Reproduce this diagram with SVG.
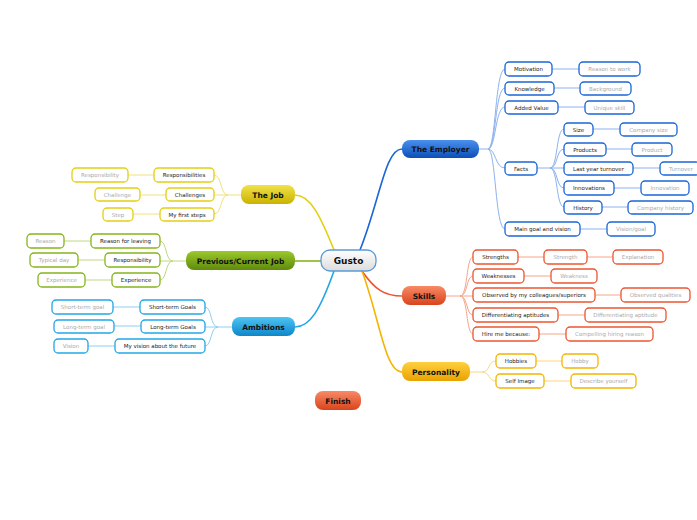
<svg xmlns="http://www.w3.org/2000/svg" width="697" height="520" viewBox="0 0 697 520">
<defs>
<linearGradient id="gB" x1="0" y1="0" x2="0" y2="1"><stop offset="0" stop-color="#4a90ee"/><stop offset="1" stop-color="#0b4fb8"/></linearGradient>
<linearGradient id="gR" x1="0" y1="0" x2="0" y2="1"><stop offset="0" stop-color="#f88a66"/><stop offset="1" stop-color="#d9441c"/></linearGradient>
<linearGradient id="gO" x1="0" y1="0" x2="0" y2="1"><stop offset="0" stop-color="#ffd040"/><stop offset="1" stop-color="#e8a200"/></linearGradient>
<linearGradient id="gY" x1="0" y1="0" x2="0" y2="1"><stop offset="0" stop-color="#f2e24a"/><stop offset="1" stop-color="#c9b200"/></linearGradient>
<linearGradient id="gG" x1="0" y1="0" x2="0" y2="1"><stop offset="0" stop-color="#9cc82c"/><stop offset="1" stop-color="#5f8a0c"/></linearGradient>
<linearGradient id="gC" x1="0" y1="0" x2="0" y2="1"><stop offset="0" stop-color="#4cc4f4"/><stop offset="1" stop-color="#0f86c8"/></linearGradient>
<linearGradient id="gW" x1="0" y1="0" x2="0" y2="1"><stop offset="0" stop-color="#ffffff"/><stop offset="1" stop-color="#dcdcdc"/></linearGradient>
</defs>
<style>
text{font-family:"DejaVu Sans","Liberation Sans",sans-serif;text-anchor:middle;dominant-baseline:central}
.m{font-size:7.5px;font-weight:bold;fill:#111}
.s{font-size:5.5px;fill:#222}
.l{font-size:5.5px;fill:#aaa}
.n{fill:#fff;stroke-width:1.3}
.b{stroke:#1a66d6}.r{stroke:#ec5530}.o{stroke:#f5b400}.y{stroke:#e3cf14}.g{stroke:#86b41a}.c{stroke:#22a6e6}
.cn path{fill:none}
.lb{stroke:#8db2ee}.lr{stroke:#f5a68c}.lo{stroke:#fbd57a}.ly{stroke:#f0e27a}.lg{stroke:#bcd880}.lc{stroke:#8fd0f2}
</style>
<g class="cn" stroke-width="1">
<path d="M360 250 C380 200 385 149 402 149" stroke="#1a66d6" stroke-width="1.6"/>
<path d="M362 271 C375 290 385 296 402 296" stroke="#ec5530" stroke-width="1.6"/>
<path d="M362 271 C380 320 385 372 402 372" stroke="#f5b400" stroke-width="1.6"/>
<path d="M334 250 C320 215 310 195 295 195" stroke="#e3cf14" stroke-width="1.6"/>
<path d="M321 261 H295" stroke="#86b41a" stroke-width="1.6"/>
<path d="M334 271 C320 310 310 327 295 327" stroke="#22a6e6" stroke-width="1.6"/>
<g class="lb">
<path d="M479 149 H488 C496 149 495 69 505 69"/><path d="M488 149 C496 149 495 88 505 88"/><path d="M488 149 C496 149 495 107 505 107"/><path d="M488 149 C496 149 495 168 505 168"/><path d="M488 149 C496 149 495 229 505 229"/>
<path d="M552 69 H579"/><path d="M554 88 H580"/><path d="M558 107 H585"/><path d="M580 229 H607"/>
<path d="M537 168 H550 C558 168 556 129 564 129"/><path d="M550 168 C558 168 556 149 564 149"/><path d="M550 168 H564"/><path d="M550 168 C558 168 556 188 564 188"/><path d="M550 168 C558 168 556 207 564 207"/>
<path d="M593 129 H620"/><path d="M606 149 H632"/><path d="M633 168 H660"/><path d="M614 188 H641"/><path d="M602 207 H628"/>
</g>
<g class="lr">
<path d="M446 296 H460 C468 296 466 257 473 257"/><path d="M460 296 C468 296 466 276 473 276"/><path d="M460 296 H473"/><path d="M460 296 C468 296 466 315 473 315"/><path d="M460 296 C468 296 466 334 473 334"/>
<path d="M518 257 H544"/><path d="M587 257 H613"/><path d="M524 276 H551"/><path d="M595 295 H621"/><path d="M558 315 H585"/><path d="M539 334 H566"/>
</g>
<g class="lo">
<path d="M470 372 H482 C490 372 488 361 496 361"/><path d="M482 372 C490 372 488 381 496 381"/>
<path d="M536 361 H562"/><path d="M544 381 H571"/>
</g>
<g class="ly">
<path d="M241 195 H228 C220 195 222 175 214 175"/><path d="M228 195 H214"/><path d="M228 195 C220 195 222 214 214 214"/>
<path d="M154 175 H128"/><path d="M166 195 H140"/><path d="M160 214 H133"/>
</g>
<g class="lg">
<path d="M186 261 H173 C165 261 167 241 160 241"/><path d="M173 261 H160"/><path d="M173 261 C165 261 167 280 160 280"/>
<path d="M91 241 H64"/><path d="M105 260 H78"/><path d="M112 280 H85"/>
</g>
<g class="lc">
<path d="M232 327 H218 C210 327 212 307 205 307"/><path d="M218 327 H205"/><path d="M218 327 C210 327 212 346 205 346"/>
<path d="M140 307 H113"/><path d="M141 326 H114"/><path d="M115 346 H88"/>
</g>
</g>
<g id="gusto"><rect x="321" y="250" width="55" height="21" rx="9" fill="url(#gW)" stroke="#5b9bd5" stroke-width="1.3"/><text x="348.5" y="261" style="font-size:9px;font-weight:bold;fill:#111">Gusto</text></g>
<g id="employer"><rect x="402" y="140" width="77" height="18" rx="8" fill="url(#gB)"/><text class="m" x="440.5" y="149">The Employer</text></g>
<g id="skills"><rect x="402" y="286" width="44" height="19" rx="8" fill="url(#gR)"/><text class="m" x="424" y="296">Skills</text></g>
<g id="personality"><rect x="402" y="362" width="68" height="19" rx="8" fill="url(#gO)"/><text class="m" x="436" y="372">Personality</text></g>
<g id="finish"><rect x="315" y="391" width="46" height="19" rx="8" fill="url(#gR)"/><text class="m" x="338" y="401">Finish</text></g>
<g id="job"><rect x="241" y="185" width="54" height="19" rx="8" fill="url(#gY)"/><text class="m" x="268" y="195">The Job</text></g>
<g id="prev"><rect x="186" y="251" width="109" height="19" rx="8" fill="url(#gG)"/><text class="m" x="240.5" y="261">Previous/Current Job</text></g>
<g id="amb"><rect x="232" y="317" width="63" height="19" rx="8" fill="url(#gC)"/><text class="m" x="263.5" y="327">Ambitions</text></g>

<g id="motivation"><rect class="n b" x="505" y="62" width="47" height="14" rx="4"/><text class="s" x="528.5" y="69">Motivation</text></g>
<g id="reason2work"><rect class="n b" x="579" y="62" width="61" height="14" rx="4"/><text class="l" x="609.5" y="69">Reason to work</text></g>
<g id="knowledge"><rect class="n b" x="505" y="82" width="49" height="13" rx="4"/><text class="s" x="529.5" y="88.5">Knowledge</text></g>
<g id="background"><rect class="n b" x="580" y="82" width="51" height="13" rx="4"/><text class="l" x="605.5" y="88.5">Background</text></g>
<g id="addedvalue"><rect class="n b" x="505" y="101" width="53" height="13" rx="4"/><text class="s" x="531.5" y="107.5">Added Value</text></g>
<g id="uniqueskill"><rect class="n b" x="585" y="101" width="49" height="13" rx="4"/><text class="l" x="609.5" y="107.5">Unique skill</text></g>
<g id="facts"><rect class="n b" x="505" y="162" width="32" height="13" rx="4"/><text class="s" x="521" y="168.5">Facts</text></g>
<g id="size"><rect class="n b" x="564" y="123" width="29" height="13" rx="4"/><text class="s" x="578.5" y="129.5">Size</text></g>
<g id="companysize"><rect class="n b" x="620" y="123" width="57" height="13" rx="4"/><text class="l" x="648.5" y="129.5">Company size</text></g>
<g id="products"><rect class="n b" x="564" y="143" width="42" height="13" rx="4"/><text class="s" x="585" y="149.5">Products</text></g>
<g id="product"><rect class="n b" x="632" y="143" width="40" height="13" rx="4"/><text class="l" x="652" y="149.5">Product</text></g>
<g id="turnover"><rect class="n b" x="564" y="162" width="69" height="13" rx="4"/><text class="s" x="598.5" y="168.5">Last year turnover</text></g>
<g id="turnover2"><rect class="n b" x="660" y="162" width="40" height="13" rx="4"/><text class="l" x="681" y="168.5">Turnover</text></g>
<g id="innovations"><rect class="n b" x="564" y="181" width="50" height="14" rx="4"/><text class="s" x="589" y="188">Innovations</text></g>
<g id="innovation"><rect class="n b" x="641" y="181" width="48" height="14" rx="4"/><text class="l" x="665" y="188">Innovation</text></g>
<g id="history"><rect class="n b" x="564" y="201" width="38" height="13" rx="4"/><text class="s" x="583" y="207.5">History</text></g>
<g id="companyhistory"><rect class="n b" x="628" y="201" width="65" height="13" rx="4"/><text class="l" x="660.5" y="207.5">Company history</text></g>
<g id="maingoal"><rect class="n b" x="505" y="222" width="75" height="14" rx="4"/><text class="s" x="542.5" y="229">Main goal and vision</text></g>
<g id="visiongoal"><rect class="n b" x="607" y="222" width="48" height="14" rx="4"/><text class="l" x="631" y="229">Vision/goal</text></g>

<g id="strengths"><rect class="n r" x="473" y="250" width="45" height="14" rx="4"/><text class="s" x="495.5" y="257">Strengths</text></g>
<g id="strength"><rect class="n r" x="544" y="250" width="43" height="14" rx="4"/><text class="l" x="565.5" y="257">Strength</text></g>
<g id="explanation"><rect class="n r" x="613" y="250" width="50" height="14" rx="4"/><text class="l" x="638" y="257">Explanation</text></g>
<g id="weaknesses"><rect class="n r" x="473" y="269" width="51" height="14" rx="4"/><text class="s" x="498.5" y="276">Weaknesses</text></g>
<g id="weakness"><rect class="n r" x="551" y="269" width="46" height="14" rx="4"/><text class="l" x="574" y="276">Weakness</text></g>
<g id="observed"><rect class="n r" x="473" y="288" width="122" height="14" rx="4"/><text class="s" x="534" y="295">Observed by my colleagues/superiors</text></g>
<g id="observedq"><rect class="n r" x="621" y="288" width="69" height="14" rx="4"/><text class="l" x="655.5" y="295">Observed qualities</text></g>
<g id="diffapt"><rect class="n r" x="473" y="308" width="85" height="14" rx="4"/><text class="s" x="515.5" y="315">Differentiating aptitudes</text></g>
<g id="diffapt2"><rect class="n r" x="585" y="308" width="81" height="14" rx="4"/><text class="l" x="625.5" y="315">Differentiating aptitude</text></g>
<g id="hireme"><rect class="n r" x="473" y="327" width="66" height="14" rx="4"/><text class="s" x="506" y="334">Hire me because:</text></g>
<g id="compelling"><rect class="n r" x="566" y="327" width="87" height="14" rx="4"/><text class="l" x="609.5" y="334">Compelling hiring reason</text></g>
<g id="hobbies"><rect class="n o" x="496" y="354" width="40" height="14" rx="4"/><text class="s" x="516" y="361">Hobbies</text></g>
<g id="hobby"><rect class="n o" x="562" y="354" width="36" height="14" rx="4"/><text class="l" x="580" y="361">Hobby</text></g>
<g id="selfimage"><rect class="n o" x="496" y="374" width="48" height="14" rx="4"/><text class="s" x="520" y="381">Self Image</text></g>
<g id="describe"><rect class="n o" x="571" y="374" width="65" height="14" rx="4"/><text class="l" x="603.5" y="381">Describe yourself</text></g>

<g id="responsibilities"><rect class="n y" x="154" y="168" width="60" height="14" rx="4"/><text class="s" x="184" y="175">Responsibilities</text></g>
<g id="responsibility1"><rect class="n y" x="72" y="168" width="56" height="14" rx="4"/><text class="l" x="100" y="175">Responsibility</text></g>
<g id="challenges"><rect class="n y" x="166" y="188" width="48" height="13" rx="4"/><text class="s" x="190" y="194.5">Challenges</text></g>
<g id="challenge"><rect class="n y" x="95" y="188" width="45" height="13" rx="4"/><text class="l" x="117.5" y="194.5">Challenge</text></g>
<g id="firststeps"><rect class="n y" x="160" y="208" width="54" height="13" rx="4"/><text class="s" x="187" y="214.5">My first steps</text></g>
<g id="step"><rect class="n y" x="103" y="208" width="30" height="13" rx="4"/><text class="l" x="118" y="214.5">Step</text></g>
<g id="reasonleaving"><rect class="n g" x="91" y="234" width="69" height="14" rx="4"/><text class="s" x="125.5" y="241">Reason for leaving</text></g>
<g id="reason"><rect class="n g" x="27" y="234" width="37" height="14" rx="4"/><text class="l" x="45.5" y="241">Reason</text></g>
<g id="responsibility2"><rect class="n g" x="105" y="253" width="55" height="14" rx="4"/><text class="s" x="132.5" y="260">Responsibility</text></g>
<g id="typicalday"><rect class="n g" x="30" y="253" width="48" height="14" rx="4"/><text class="l" x="54" y="260">Typical day</text></g>
<g id="experience"><rect class="n g" x="112" y="273" width="48" height="14" rx="4"/><text class="s" x="136" y="280">Experience</text></g>
<g id="experience2"><rect class="n g" x="38" y="273" width="47" height="14" rx="4"/><text class="l" x="61.5" y="280">Experience</text></g>
<g id="shortterm"><rect class="n c" x="140" y="300" width="65" height="14" rx="4"/><text class="s" x="172.5" y="307">Short-term Goals</text></g>
<g id="shortgoal"><rect class="n c" x="52" y="300" width="61" height="14" rx="4"/><text class="l" x="82.5" y="307">Short-term goal</text></g>
<g id="longterm"><rect class="n c" x="141" y="320" width="64" height="13" rx="4"/><text class="s" x="173" y="326.5">Long-term Goals</text></g>
<g id="longgoal"><rect class="n c" x="54" y="320" width="60" height="13" rx="4"/><text class="l" x="84" y="326.5">Long-term goal</text></g>
<g id="myvision"><rect class="n c" x="115" y="339" width="90" height="14" rx="4"/><text class="s" x="160" y="346">My vision about the future</text></g>
<g id="vision"><rect class="n c" x="54" y="339" width="34" height="14" rx="4"/><text class="l" x="71" y="346">Vision</text></g>
</svg>
